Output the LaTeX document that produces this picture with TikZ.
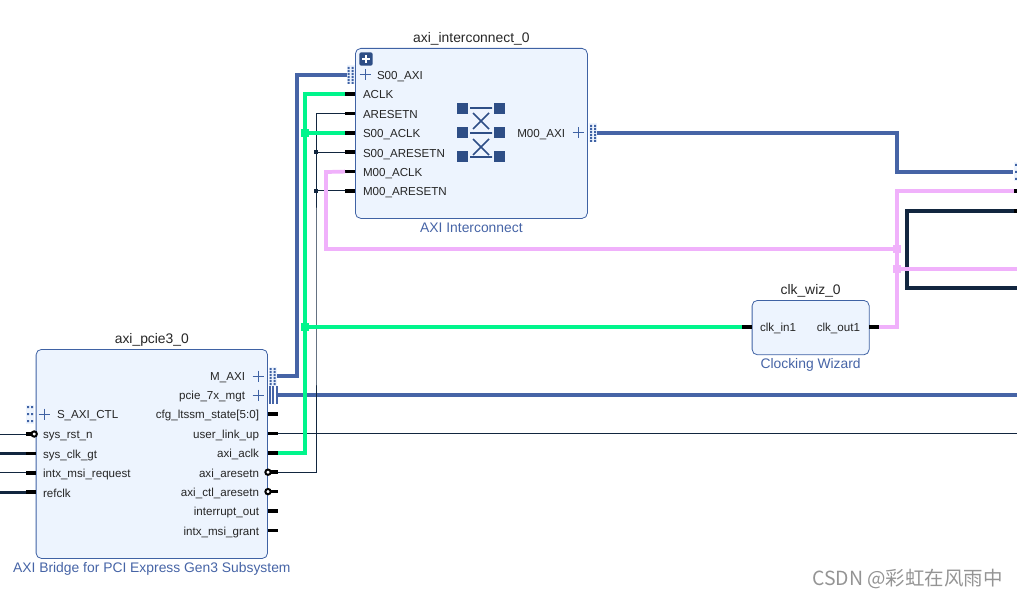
\documentclass[tikz,border=0pt]{standalone}
\usepackage{fontspec}
\setmainfont{Liberation Sans}
\newfontfamily\cjkfont{Noto Sans CJK SC}
\usepackage{tikz}
\usetikzlibrary{positioning,calc}
\definecolor{ipfill}{HTML}{EDF4FE}
\definecolor{ipline}{HTML}{3F62A4}
\definecolor{ipdark}{HTML}{2E4E86}
\definecolor{axiblue}{HTML}{4664A6}
\definecolor{clkgreen}{HTML}{00F58C}
\definecolor{clkpink}{HTML}{F0B1FB}
\definecolor{netdark}{HTML}{12263F}

\begin{document}
\begin{tikzpicture}[
            x=0.75pt, y=-0.75pt,
            font=\fontsize{8.7pt}{10pt}\selectfont,
            ipblock/.style={draw=ipline, fill=ipfill, rounded corners=4pt, line width=0.6pt,
            inner sep=0pt, anchor=north west},
            iptitle/.style={font=\fontsize{10.4pt}{12pt}\selectfont, text=black!85, inner sep=1pt},
            ipname/.style={font=\fontsize{10.4pt}{12pt}\selectfont, text=axiblue, inner sep=1pt},
            pinl/.style={inner sep=0pt, outer sep=0pt, text height=8.7pt, text depth=1.3pt, anchor=west, text=black!85},
            pinr/.style={pinl, anchor=east},
            nextl/.style={pinl, below=4.55pt of #1.south west, anchor=north west},
            nextr/.style={pinl, below=4.55pt of #1.south east, anchor=north east},
            stub/.style={fill=black, minimum width=7.5pt, minimum height=2.8pt, inner sep=0pt, outer sep=0pt},
            inv/.style={circle, draw=black, fill=white, line width=1.5pt, minimum size=4pt, inner sep=0pt},
            axiwire/.style={axiblue, line width=3pt},
            clkwire/.style={clkgreen, line width=3pt},
            pllwire/.style={clkpink, line width=2.8pt},
            thinwire/.style={netdark, line width=0.75pt},
            thickwire/.style={netdark, line width=2.3pt},
            jgreen/.style={fill=clkgreen, minimum size=6pt, inner sep=0pt},
            jpink/.style={fill=clkpink, minimum size=6pt, inner sep=0pt},
            jdark/.style={fill=netdark, minimum size=3.2pt, inner sep=0pt},
            swnode/.style={fill=ipdark, minimum size=8.2pt, inner sep=0pt},
            plusmark/.pic={\draw[ipline, line width=0.75pt] (-5.5,0) -- (5.5,0) (0,-5.5) -- (0,5.5);},
            dotport/.pic={\fill[ipfill] (-4,-9.5) rectangle (4,9.5);
            \foreach \py in {-8,-5,-2,1,4,7} \fill[ipline] (-3,\py) rectangle ++(2,2) (1,\py) rectangle ++(2,2);},
            openport/.pic={\fill[ipfill] (-4,-9.5) rectangle (4,9.5);
            \foreach \py in {-8,-1,6} \fill[ipline] (-3,\py) rectangle ++(2,2) (1,\py) rectangle ++(2,2);},
            barport/.pic={\foreach \px in {-4,-0.5,3} \fill[axiblue] (\px,-9) rectangle ++(2,18);}
        ]
\useasboundingbox (0,0) rectangle (1017,599);
% blocks
            \node[ipblock, minimum width=174pt, minimum height=127.5pt] (ic)  at (355,48)  {};
            \node[ipblock, minimum width=173.6pt, minimum height=156.8pt] (pcie) at (35.7,349) {};
            \node[ipblock, minimum width=87.8pt, minimum height=40.8pt] (wiz) at (751.7,300) {};
% titles and subtitles
            \node[iptitle, above=0.6pt of ic]           (ictitle)   {axi\_interconnect\_0};
            \node[ipname, below=1.6pt of ic]            (icname)    {AXI Interconnect};
            \node[iptitle, above=0.6pt of pcie]         (pcietitle) {axi\_pcie3\_0};
            \node[ipname, below=1.4pt of pcie]          (pciename)  {AXI Bridge for PCI Express Gen3 Subsystem};
            \node[iptitle, above=0.6pt of wiz]          (wiztitle)  {clk\_wiz\_0};
            \node[ipname, below=1.4pt of wiz]           (wizname)   {Clocking Wizard};
% axi_interconnect_0 pins
            \node[pinl] (saxi)   at (377,75)            {S00\_AXI};
            \node[pinl] (aclk)   at (363,94)            {ACLK};
            \node[nextl=aclk]   (arst)                  {ARESETN};
            \node[nextl=arst]   (sclk)                  {S00\_ACLK};
            \node[nextl=sclk]   (srst)                  {S00\_ARESETN};
            \node[nextl=srst]   (mclk)                  {M00\_ACLK};
            \node[nextl=mclk]   (mrst)                  {M00\_ARESETN};
            \node[pinr] (maxi)   at (565,133)           {M00\_AXI};
            \node[stub, left=6pt of aclk]               (aclkp) {};
            \node[stub, left=6pt of arst]               (arstp) {};
            \node[stub, left=6pt of sclk]               (sclkp) {};
            \node[stub, left=6pt of srst]               (srstp) {};
            \node[stub, left=6pt of mclk]               (mclkp) {};
            \node[stub, left=6pt of mrst]               (mrstp) {};
            \coordinate (saxip) at (347,75);
            \coordinate (maxip) at (597,133);
            \pic at (350.5,75) {dotport};
            \pic at (365,75) {plusmark};
            \pic at (593,133) {dotport};
            \pic at (578,133) {plusmark};
% hierarchy button
            \node[fill=ipdark, rounded corners=1.5pt, minimum size=10pt, inner sep=0pt] (hier) at (366,59) {};
            \draw[white, line width=1.3pt] ([xshift=-3pt]hier.center) -- ([xshift=3pt]hier.center)
                ([yshift=-3pt]hier.center) -- ([yshift=3pt]hier.center);
% switch symbol
            \node[swnode] (sw1) at (462.5,108.5) {};
            \node[swnode] (sw2) at (462.5,132.5) {};
            \node[swnode] (sw3) at (462.5,156.5) {};
            \node[swnode] (sw4) at (499.5,108.5) {};
            \node[swnode] (sw5) at (499.5,132.5) {};
            \node[swnode] (sw6) at (499.5,156.5) {};
            \draw[ipdark, line width=1.3pt] (470,108) -- (492,108) (470,133) -- (492,133) (470,157) -- (492,157)
                (473,113) -- (489,129) (473,129) -- (489,113) (473,139) -- (489,155) (473,155) -- (489,139);
% axi_pcie3_0 pins
            \node[pinl] (sctl)   at (57,414)            {S\_AXI\_CTL};
            \node[pinl] (srstn)  at (43,434)            {sys\_rst\_n};
            \node[nextl=srstn]  (sclkg)                 {sys\_clk\_gt};
            \node[nextl=sclkg]  (intx)                  {intx\_msi\_request};
            \node[nextl=intx]   (refclk)                {refclk};
            \node[pinr] (paxi)   at (245,376)           {M\_AXI};
            \node[pinr] (pmgt)   at (245,395)           {pcie\_7x\_mgt};
            \node[pinr] (ltssm)  at (259,414)           {cfg\_ltssm\_state[5:0]};
            \node[nextr=ltssm]  (link)                  {user\_link\_up};
            \node[nextr=link]   (paclk)                 {axi\_aclk};
            \node[nextr=paclk]  (parst)                 {axi\_aresetn};
            \node[nextr=parst]  (pcrst)                 {axi\_ctl\_aresetn};
            \node[nextr=pcrst]  (irq)                   {interrupt\_out};
            \node[nextr=irq]    (grant)                 {intx\_msi\_grant};
            \node[stub, left=5.25pt of srstn]           (srstnp)  {};
            \node[stub, left=5.25pt of sclkg]           (sclkgp)  {};
            \node[stub, left=5.25pt of intx]            (intxp)   {};
            \node[stub, left=5.25pt of refclk]          (refclkp) {};
            \node[stub, right=6.75pt of ltssm]          (ltssmp)  {};
            \node[stub, right=6.75pt of link]           (linkp)   {};
            \node[stub, right=6.75pt of paclk]          (paclkp)  {};
            \node[stub, right=6.75pt of parst]          (parstp)  {};
            \node[stub, right=6.75pt of pcrst]          (pcrstp)  {};
            \node[stub, right=6.75pt of irq]            (irqp)    {};
            \node[stub, right=6.75pt of grant]          (grantp)  {};
            \coordinate (paxip) at (277,376);
            \coordinate (pmgtp) at (277,395);
            \pic at (272.5,376) {dotport};
            \pic at (258,376) {plusmark};
            \pic at (272.5,395) {barport};
            \pic at (258,395) {plusmark};
            \pic at (30,414) {openport};
            \pic at (44,414) {plusmark};
% clk_wiz_0 pins
            \node[pinl] (clkin)  at (760,327)           {clk\_in1};
            \node[pinr] (clkout) at (860,327)           {clk\_out1};
            \node[stub, left=6pt of clkin]              (clkinp)  {};
            \node[stub, right=6.75pt of clkout]         (clkoutp) {};
% free ends at the right and left borders
            \coordinate (edgeaxi)  at (1013,172);
            \coordinate (edgepll)  at (1014,191);
            \coordinate (edgerst)  at (1014,211);
            \coordinate (edgelock) at (1017,288);
            \coordinate (edgepll2) at (1017,269);
            \coordinate (edgemgt)  at (1017,395);
            \coordinate (edgelink) at (1017,434);
            \coordinate (clkx)     at (305,300);
            \coordinate (rstx)     at (316,300);
            \coordinate (pllx)     at (897,300);
            \coordinate (inx)      at (0,300);
            \pic at (1018,172) {openport};
            \node[stub, minimum width=2.5pt] (edgepllp) at (1016,191) {};
            \node[stub, minimum width=2.5pt] (edgerstp) at (1016,211) {};
% axi nets
            \draw[axiwire] (paxip) -- ++(20,0) |- (saxip);
            \draw[axiwire] (maxip) -| (pllx |- edgeaxi) -- (edgeaxi);
            \draw[axiwire] (pmgtp) -- (edgemgt);
% reset nets and single wires
            \draw[thinwire] (parstp.east) -| (rstx) |- (arstp.west);
            \draw[thinwire] (rstx |- srstp) -- (srstp.west);
            \draw[thinwire] (rstx |- mrstp) -- (mrstp.west);
            \node[jdark] (jrst1) at (rstx |- srstp) {};
            \node[jdark] (jrst2) at (rstx |- mrstp) {};
            \draw[thinwire] (linkp.east) -- (edgelink |- linkp);
            \draw[thinwire] (inx |- srstnp) -- (srstnp.west);
            \draw[thinwire] (inx |- intxp) -- (intxp.west);
            \draw[thickwire] (inx |- sclkgp) -- (sclkgp.west);
            \draw[thickwire] (inx |- refclkp) -- (refclkp.west);
            \draw[thickwire] (edgerst) -| (907,288) -- (edgelock);
% inverted pins
            \node[inv] (srstni) at ([xshift=2.4pt]srstnp.center) {};
            \node[inv] (parsti) at (parstp.west) {};
            \node[inv] (pcrsti) at (pcrstp.west) {};
% clock nets
            \draw[clkwire] (paclkp.east) -| (clkx) |- (aclkp.west);
            \draw[clkwire] (clkx |- sclkp) -- (sclkp.west);
            \draw[clkwire] (clkx |- clkinp) -- (clkinp.west);
            \node[jgreen] (jclk1) at (clkx |- sclkp) {};
            \node[jgreen] (jclk2) at (clkx |- clkinp) {};
% pll nets
            \draw[pllwire] (clkoutp.east) -| (pllx) |- (edgepll);
            \node[jpink] (jpll1) at (897,249) {};
            \node[jpink] (jpll2) at (897,269) {};
            \draw[pllwire] (jpll1.center) -| (326,172) -- (mclkp.west);
            \draw[pllwire] (jpll2.center) -- (edgepll2);
% watermark
            \node[anchor=east, inner sep=0pt, text=black!42, font=\cjkfont\fontsize{14.6pt}{16pt}\selectfont] (mark) at (1003,579) {CSDN @彩虹在风雨中};
        \end{tikzpicture}
\end{document}
